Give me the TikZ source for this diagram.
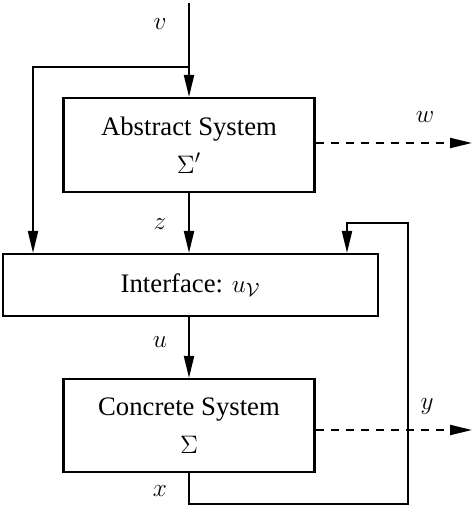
\documentclass[tikz,border=0pt]{standalone}
\usepackage{amsmath,amssymb}
\usepackage{fontspec}
\setmainfont{Liberation Serif}
\usepackage{tikz}
\usetikzlibrary{arrows.meta}

\tikzset{
  sysbox/.style={draw, align=center, inner sep=0pt,
    font=\fontsize{15.2}{21.5}\selectfont},
  sig/.style={font=\fontsize{15.5}{18}\selectfont},
  flow/.style={-{Triangle[length=0.44cm, width=0.2cm]}},
  outflow/.style={flow, dash pattern=on 0.16cm off 0.14cm},
}

\begin{document}
\begin{tikzpicture}[x=0.02cm, y=-0.02cm, line width=1.2pt]
  % one unit is one pixel of the 474x506 sketch, y runs downwards
  \useasboundingbox (0,0) rectangle (474,506);

  % the three blocks, stacked
  \node[sysbox, minimum width=5.02cm, minimum height=1.88cm] (abs) at (189,145)
    {Abstract System\\$\Sigma'$};
  \node[sysbox, minimum width=7.5cm, minimum height=1.24cm] (iface) at (190.5,285)
    {Interface: $u_{\mathcal{V}}$};
  \node[sysbox, minimum width=5.02cm, minimum height=1.86cm] (conc) at (189,425.5)
    {Concrete System\\$\Sigma$};

  % corners of the wires
  \coordinate (vin) at (189,3);
  \coordinate (vsplit) at (189,67);
  \coordinate (vleft) at (33,67);
  \coordinate (wout) at (472,143);
  \coordinate (yout) at (472,430);
  \coordinate (xright) at (408,504);
  \coordinate (xleft) at (347,223);

  % wires: v feeds both the abstract system and the interface
  \draw[flow] (vin) -- (abs.north);
  \draw[flow] (vsplit) -- (vleft) -- (vleft |- iface.north);
  \draw[flow] (abs.south) -- (abs.south |- iface.north);
  \draw[flow] (iface.south -| conc.north) -- (conc.north);
  % state x goes back round to the interface
  \draw[flow] (conc.south) |- (xright) |- (xleft) -- (xleft |- iface.north);

  % outputs
  \draw[outflow] (abs.east |- wout) -- (wout);
  \draw[outflow] (conc.east |- yout) -- (yout);

  % signal names
  \node[sig] (vlab) at (160,24) {$v$};
  \node[sig] (wlab) at (425,117) {$w$};
  \node[sig] (zlab) at (160,224) {$z$};
  \node[sig] (ulab) at (160,342) {$u$};
  \node[sig] (ylab) at (427,407) {$y$};
  \node[sig] (xlab) at (160,491) {$x$};
\end{tikzpicture}
\end{document}
